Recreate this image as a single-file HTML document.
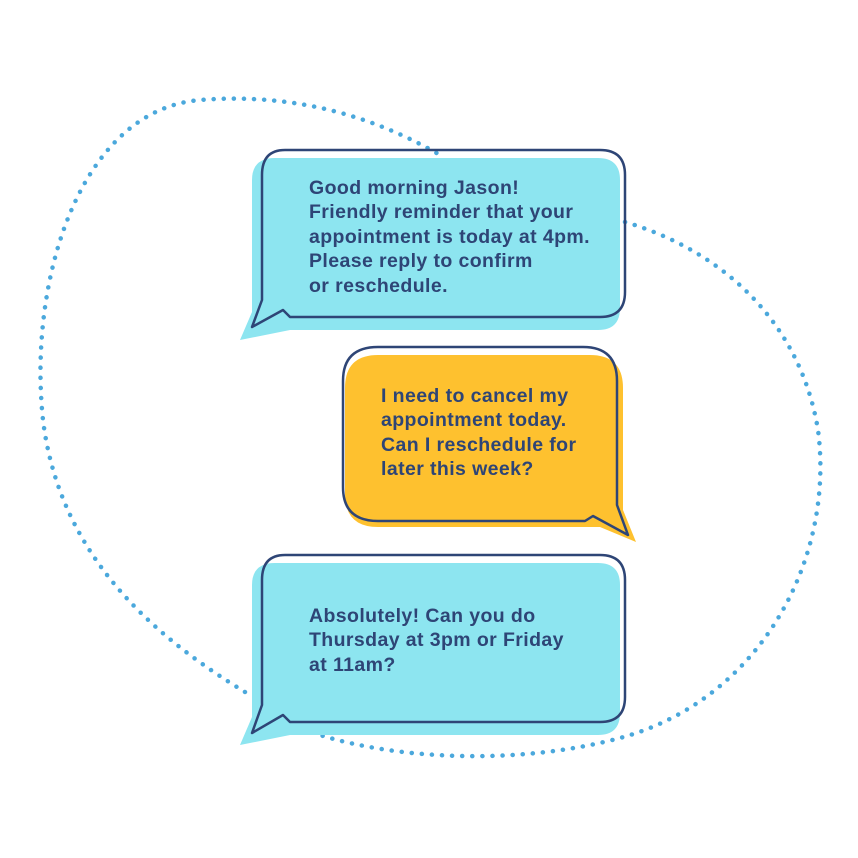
<!DOCTYPE html>
<html><head><style>html,body{margin:0;padding:0;background:#fff}svg{display:block}</style></head>
<body>
<svg width="858" height="858" viewBox="0 0 858 858" xmlns="http://www.w3.org/2000/svg">
<path d="M245,692 C160,640 60,560 43,420 C28,280 80,110 200,100 C300,92 380,120 440,155 M625,222 C720,250 800,320 818,430 C835,560 760,700 620,738 C520,765 400,760 320,735" fill="none" stroke="#4ba8dc" stroke-width="4.5" stroke-linecap="round" stroke-dasharray="0.1 10"/>
<!-- bubble 1 -->
<path d="M275,158 H598 Q620,158 620,180 V308 Q620,330 598,330 H290 L240,340 L252,312 V180 Q252,158 275,158 Z" fill="#8de5f0"/>
<path d="M285,150 H600 Q625,150 625,175 V292 Q625,317 600,317 H290 L283,310 L252,327 L262,300 V175 Q262,150 285,150 Z" fill="none" stroke="#2e4576" stroke-width="2.5" stroke-linejoin="round"/>
<!-- bubble 2 -->
<path d="M378,355 H590 Q623,355 623,388 V510 L636,542 L600,527 H378 Q345,527 345,494 V388 Q345,355 378,355 Z" fill="#fec12f"/>
<path d="M378,347 H583 Q617,347 617,381 V505 L628,535 L593,516 L585,521 H378 Q343,521 343,487 V381 Q343,347 378,347 Z" fill="none" stroke="#2e4576" stroke-width="2.5" stroke-linejoin="round"/>
<!-- bubble 3 -->
<path d="M275,563 H598 Q620,563 620,585 V713 Q620,735 598,735 H290 L240,745 L252,717 V585 Q252,563 275,563 Z" fill="#8de5f0"/>
<path d="M285,555 H600 Q625,555 625,580 V697 Q625,722 600,722 H290 L283,715 L252,733 L262,705 V580 Q262,555 285,555 Z" fill="none" stroke="#2e4576" stroke-width="2.5" stroke-linejoin="round"/>
<g font-family="Liberation Sans, sans-serif" font-weight="bold" font-size="19.5" letter-spacing="0.4" fill="#2e4576">
<text x="309" y="194">Good morning Jason!</text>
<text x="309" y="218">Friendly reminder that your</text>
<text x="309" y="243">appointment is today at 4pm.</text>
<text x="309" y="267">Please reply to confirm</text>
<text x="309" y="292">or reschedule.</text>
<text x="381" y="402">I need to cancel my</text>
<text x="381" y="426">appointment today.</text>
<text x="381" y="451">Can I reschedule for</text>
<text x="381" y="475">later this week?</text>
<text x="309" y="622">Absolutely! Can you do</text>
<text x="309" y="646">Thursday at 3pm or Friday</text>
<text x="309" y="671">at 11am?</text>
</g>
</svg>
</body></html>
